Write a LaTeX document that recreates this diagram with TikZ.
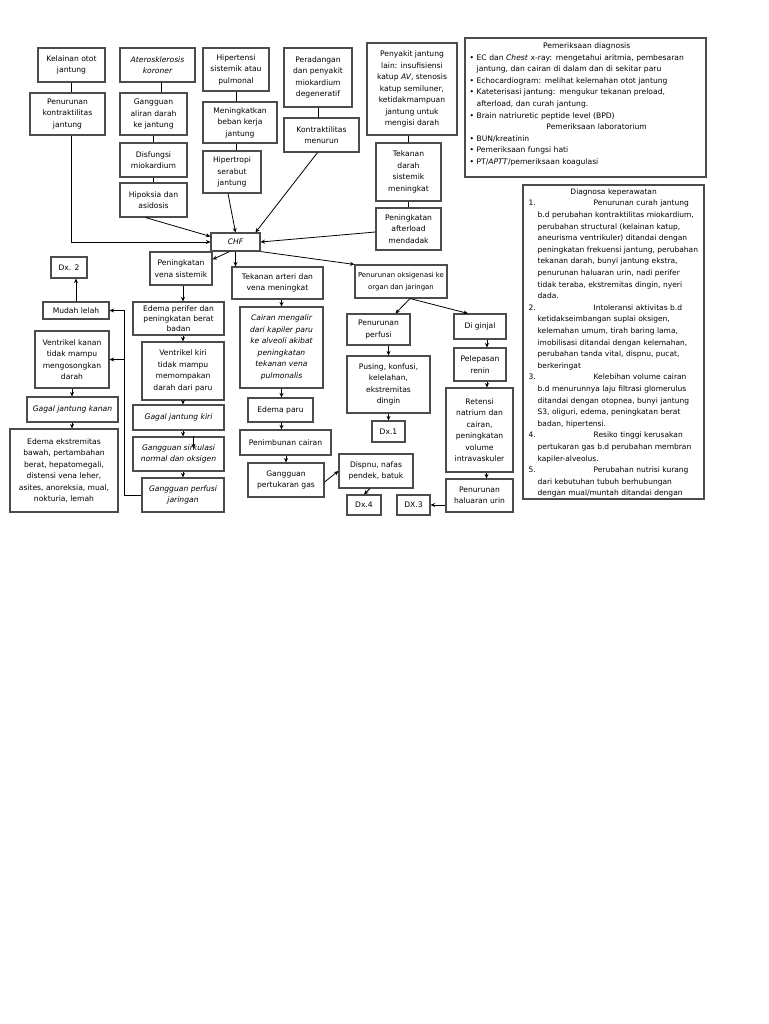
\documentclass[tikz,border=0pt]{standalone}
\usepackage{fontspec}
\setmainfont{DejaVu Sans}
\usetikzlibrary{arrows.meta}
\tikzset{
 box/.style={draw=black!70, line width=1.1pt, fill=white, align=center, inner sep=1pt, font=\fontsize{7.6}{11.5}\selectfont},
 it/.style={font=\fontsize{7.6}{11.5}\selectfont\itshape},
 arr/.style={-{Stealth[length=4.5pt,width=4pt]}, line width=0.8pt},
 ln/.style={line width=0.8pt},
}
\newcommand\mybox[7]{%
 \pgfmathsetmacro\bw{#4-#2}\pgfmathsetmacro\bh{#5-#3}%
 \pgfmathsetmacro\bcx{(#2+#4)/2}\pgfmathsetmacro\bcy{(#3+#5)/2}%
 \node[box,minimum width=\bw pt,minimum height=\bh pt,#6] (#1) at (\bcx,\bcy) {#7};}
\newcommand\bul{\makebox[7pt][l]{\textbullet}}
\begin{document}
\begin{tikzpicture}[x=1pt,y=-1pt]
\useasboundingbox[fill=white] (0,0) rectangle (768,1024);
% top row
\mybox{ko}{38}{48}{105}{82}{}{Kelainan otot\\jantung}
\mybox{pk}{30}{93}{105}{135}{}{Penurunan\\kontraktilitas\\jantung}
\mybox{ak}{120}{48}{195}{82}{it}{Aterosklerosis\\koroner}
\mybox{ga}{120}{93}{187}{135}{}{Gangguan\\aliran darah\\ke jantung}
\mybox{dm}{120}{143}{187}{177}{}{Disfungsi\\miokardium}
\mybox{ha}{120}{183}{187}{217}{}{Hipoksia dan\\asidosis}
\mybox{hs}{203}{48}{269}{91}{}{Hipertensi\\sistemik atau\\pulmonal}
\mybox{mb}{203}{102}{277}{143}{}{Meningkatkan\\beban kerja\\jantung}
\mybox{ht}{203}{151}{261}{193}{}{Hipertropi\\serabut\\jantung}
\mybox{pd}{284}{48}{352}{107}{}{Peradangan\\dan penyakit\\miokardium\\degeneratif}
\mybox{km}{284}{118}{359}{152}{}{Kontraktilitas\\menurun}
\mybox{pj}{367}{43}{457}{135}{}{Penyakit jantung\\lain: insufisiensi\\katup \textit{AV}, stenosis\\katup semiluner,\\ketidakmampuan\\jantung untuk\\mengisi darah}
\mybox{td}{376}{143}{441}{201}{}{Tekanan\\darah\\sistemik\\meningkat}
\mybox{pa}{376}{208}{441}{250}{}{Peningkatan\\afterload\\mendadak}
\mybox{chf}{211}{233}{260}{251}{it}{CHF}
% second level
\mybox{pv}{150}{252}{212}{285}{}{Peningkatan\\vena sistemik}
\mybox{ta}{232}{267}{323}{299}{}{Tekanan arteri dan\\vena meningkat}
\mybox{po}{355}{265}{447}{298}{font=\fontsize{6.9}{11.5}\selectfont}{Penurunan oksigenasi ke\\organ dan jaringan}
% left column
\mybox{dx2}{51}{257}{87}{278}{}{Dx. 2}
\mybox{ml}{43}{302}{109}{319}{}{Mudah lelah}
\mybox{vk}{35}{331}{109}{388}{}{Ventrikel kanan\\tidak mampu\\mengosongkan\\darah}
\mybox{gk}{27}{397}{118}{422}{it}{Gagal jantung kanan}
\mybox{ee}{10}{429}{118}{512}{}{Edema ekstremitas\\bawah, pertambahan\\berat, hepatomegali,\\distensi vena leher,\\asites, anoreksia, mual,\\nokturia, lemah}
% middle-left column
\mybox{ep}{133}{302}{224}{335}{font=\fontsize{7.6}{10.3}\selectfont}{Edema perifer dan\\peningkatan berat\\badan}
\mybox{vki}{142}{342}{224}{400}{}{Ventrikel kiri\\tidak mampu\\memompakan\\darah dari paru}
\mybox{gki}{133}{405}{224}{430}{it}{Gagal jantung kiri}
\mybox{gs}{133}{437}{224}{471}{it}{Gangguan sirkulasi\\normal dan oksigen}
\mybox{gp}{142}{478}{224}{512}{it}{Gangguan perfusi\\jaringan}
% middle column
\mybox{cm}{240}{307}{323}{388}{it}{Cairan mengalir\\dari kapiler paru\\ke alveoli akibat\\peningkatan\\tekanan vena\\pulmonalis}
\mybox{epa}{248}{398}{313}{422}{}{Edema paru}
\mybox{pc}{240}{430}{331}{455}{}{Penimbunan cairan}
\mybox{gpg}{248}{463}{324}{497}{}{Gangguan\\pertukaran gas}
\mybox{dnb}{339}{454}{413}{488}{}{Dispnu, nafas\\pendek, batuk}
\mybox{dx4}{347}{495}{381}{515}{}{Dx.4}
% right-middle column
\mybox{pp}{347}{314}{410}{345}{}{Penurunan\\perfusi}
\mybox{pkk}{347}{356}{430}{413}{}{Pusing, konfusi,\\kelelahan,\\ekstremitas\\dingin}
\mybox{dx1}{372}{421}{405}{442}{}{Dx.1}
\mybox{dg}{454}{314}{506}{339}{}{Di ginjal}
\mybox{pr}{454}{348}{506}{381}{}{Pelepasan\\renin}
\mybox{rn}{446}{388}{513}{472}{}{Retensi\\natrium dan\\cairan,\\peningkatan\\volume\\intravaskuler}
\mybox{ph}{446}{479}{513}{512}{}{Penurunan\\haluaran urin}
\mybox{dx3}{397}{495}{430}{515}{}{DX.3}
% information boxes
\mybox{pdx}{465}{38}{706}{177}{}{}
\node[anchor=north west, inner sep=0pt, text width=234pt, align=left, font=\fontsize{7.6}{11.6}\selectfont] (pdxt) at ([xshift=5pt,yshift=-5pt]pdx.north west)
{\makebox[234pt][c]{Pemeriksaan diagnosis}\\
\bul EC dan \textit{Chest} x-ray: mengetahui aritmia, pembesaran\\
\hspace*{7pt}jantung, dan cairan di dalam dan di sekitar paru\\
\bul Echocardiogram: melihat kelemahan otot jantung\\
\bul Kateterisasi jantung: mengukur tekanan preload,\\
\hspace*{7pt}afterload, dan curah jantung.\\
\bul Brain natriuretic peptide level (BPD)\\
\makebox[234pt][c]{\hspace*{20pt}Pemeriksaan laboratorium}\\
\bul BUN/kreatinin\\
\bul Pemeriksaan fungsi hati\\
\bul PT/\textit{APTT}/pemeriksaan koagulasi};
\mybox{dk}{523}{185}{704}{499}{}{}
\node[anchor=north west, inner sep=0pt, text width=174pt, align=left, font=\fontsize{7.5}{11.6}\selectfont] (dkt) at ([xshift=5pt,yshift=-4pt]dk.north west)
{\makebox[172pt][c]{Diagnosa keperawatan}\\
\makebox[66pt][l]{\hspace*{1pt}1.}Penurunan curah jantung\\
\hspace*{10pt}b.d perubahan kontraktilitas miokardium,\\
\hspace*{10pt}perubahan structural (kelainan katup,\\
\hspace*{10pt}aneurisma ventrikuler) ditandai dengan\\
\hspace*{10pt}peningkatan frekuensi jantung, perubahan\\
\hspace*{10pt}tekanan darah, bunyi jantung ekstra,\\
\hspace*{10pt}penurunan haluaran urin, nadi perifer\\
\hspace*{10pt}tidak teraba, ekstremitas dingin, nyeri\\
\hspace*{10pt}dada.\\
\makebox[66pt][l]{\hspace*{1pt}2.}Intoleransi aktivitas b.d\\
\hspace*{10pt}ketidakseimbangan suplai oksigen,\\
\hspace*{10pt}kelemahan umum, tirah baring lama,\\
\hspace*{10pt}imobilisasi ditandai dengan kelemahan,\\
\hspace*{10pt}perubahan tanda vital, dispnu, pucat,\\
\hspace*{10pt}berkeringat\\
\makebox[66pt][l]{\hspace*{1pt}3.}Kelebihan volume cairan\\
\hspace*{10pt}b.d menurunnya laju filtrasi glomerulus\\
\hspace*{10pt}ditandai dengan otopnea, bunyi jantung\\
\hspace*{10pt}S3, oliguri, edema, peningkatan berat\\
\hspace*{10pt}badan, hipertensi.\\
\makebox[66pt][l]{\hspace*{1pt}4.}Resiko tinggi kerusakan\\
\hspace*{10pt}pertukaran gas b.d perubahan membran\\
\hspace*{10pt}kapiler-alveolus.\\
\makebox[66pt][l]{\hspace*{1pt}5.}Perubahan nutrisi kurang\\
\hspace*{10pt}dari kebutuhan tubuh berhubungan\\
\hspace*{10pt}dengan mual/muntah ditandai dengan};
% connectors top
\draw[ln] (ko.south) -- (ko.south |- pk.north);
\draw[arr] ([xshift=4pt]pk.south) |- (chf.west);
\draw[ln] ([xshift=4pt]ak.south) -- ([xshift=4pt]ak.south |- ga.north);
\draw[ln] (ga.south) -- (ga.south |- dm.north);
\draw[ln] (dm.south) -- (dm.south |- ha.north);
\draw[arr] ([xshift=-8pt]ha.south) -- ([yshift=-4pt]chf.north west);
\draw[ln] (hs.south) -- (hs.south |- mb.north);
\draw[ln] (hs.south |- mb.south) -- (hs.south |- ht.north);
\draw[arr] ([xshift=-4pt]ht.south) -- (chf.north);
\draw[ln] (pd.south) -- (pd.south |- km.north);
\draw[arr] ([xshift=-4pt]km.south) -- ([xshift=20pt]chf.north);
\draw[ln] (td.north) -- (td.north |- pj.south);
\draw[ln] (td.south) -- (pa.north);
\draw[arr] ([yshift=-3pt]pa.west) -- (chf.east);
\draw[arr] ([xshift=-6pt]chf.south) -- ([yshift=-8pt]pv.north east);
\draw[arr] (chf.south) -- (chf.south |- ta.north);
\draw[arr] (chf.south east) -- (po.north west);
% left column
\draw[arr] (ml.north) -- (ml.north |- dx2.south);
\draw[arr] (vk.south) -- (vk.south |- gk.north);
\draw[arr] (vk.south |- gk.south) -- (vk.south |- ee.north);
\path (gp.west) ++(-17,0) coordinate (jn);
\draw[arr] (gp.west) -- (jn) |- (ml.east);
\draw[arr] (jn |- vk.east) -- (vk.east);
% middle-left column
\draw[arr] (vki.north |- pv.south) -- (vki.north |- ep.north);
\draw[arr] (vki.north |- ep.south) -- (vki.north);
\draw[arr] (vki.south) -- (vki.south |- gki.north);
\draw[arr] (vki.south |- gki.south) -- (vki.south |- gs.north);
\draw[arr] (vki.south |- gs.south) -- (vki.south |- gp.north);
\draw[arr] ([xshift=15pt]gs.north) -- ([xshift=15pt,yshift=-12pt]gs.north);
% middle column
\draw[arr] (cm.north |- ta.south) -- (cm.north);
\draw[arr] (cm.south) -- (cm.south |- epa.north);
\draw[arr] (cm.south |- epa.south) -- (cm.south |- pc.north);
\draw[arr] (gpg.north |- pc.south) -- (gpg.north);
\draw[arr] ([yshift=-2pt]gpg.east) -- (dnb.west);
\draw[arr] ([xshift=-6pt]dnb.south) -- (dx4.north);
% right-middle column
\draw[arr] ([xshift=9pt]po.south) -- ([xshift=17pt]pp.north);
\draw[arr] ([xshift=9pt]po.south) -- ([xshift=-12pt]dg.north);
\draw[arr] ([xshift=10pt]pp.south) -- ([xshift=10pt]pp.south |- pkk.north);
\draw[arr] (dx1.north |- pkk.south) -- (dx1.north);
\draw[arr] ([xshift=7pt]dg.south) -- ([xshift=7pt]pr.north);
\draw[arr] ([xshift=7pt]pr.south) -- ([xshift=7.5pt]rn.north);
\draw[arr] ([xshift=7pt]rn.south) -- ([xshift=7pt]ph.north);
\draw[arr] (ph.west |- dx3.east) -- (dx3.east);
\end{tikzpicture}
\end{document}
